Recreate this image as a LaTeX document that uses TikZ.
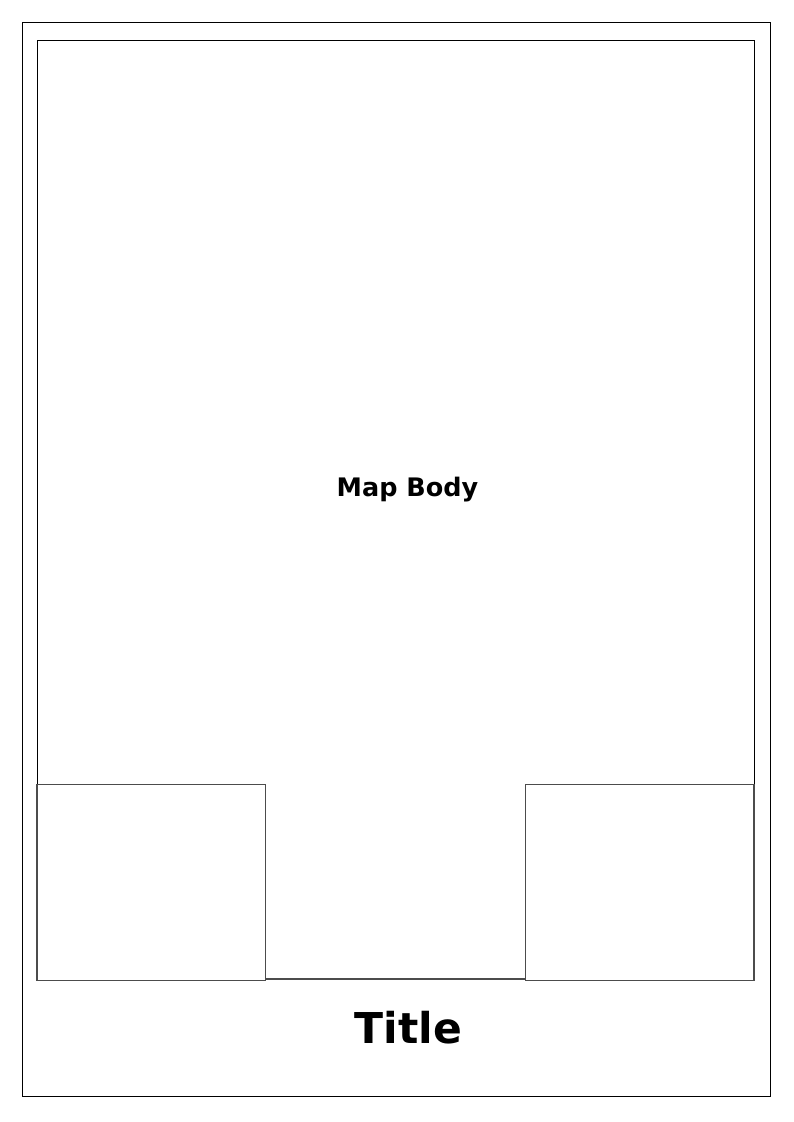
\documentclass[tikz,border=0pt]{standalone}
\usepackage{fontspec}
\setmainfont{DejaVu Sans}
\begin{document}
\begin{tikzpicture}[x=1pt,y=-1pt,
  frame/.style={draw=black,line width=1pt,fill=none},
  box/.style={draw=black!70,line width=1.3pt},
  lbl/.style={font=\bfseries\fontsize{25.5}{30}\selectfont,inner sep=0pt},
  ttl/.style={font=\bfseries\fontsize{42.5}{48}\selectfont,inner sep=0pt}]
\useasboundingbox (0,0) rectangle (793,1122);
\draw[frame] (22,22) rectangle (770.5,1096);
\coordinate (bl) at (37,979);
\coordinate (br) at (754,979);
\draw[frame] (bl) -- (37,40) -- (754,40) -- (br);
\draw[box] (266,979) -- (526,979);
\draw[box] (37,784.5) rectangle (265.7,980.3);
\draw[box] (525.7,784.5) rectangle (754,980.3);
\node[lbl] (body) at (407.5,490) {Map Body};
\node[ttl] (title) at (408.5,1028) {Title};
\end{tikzpicture}
\end{document}
